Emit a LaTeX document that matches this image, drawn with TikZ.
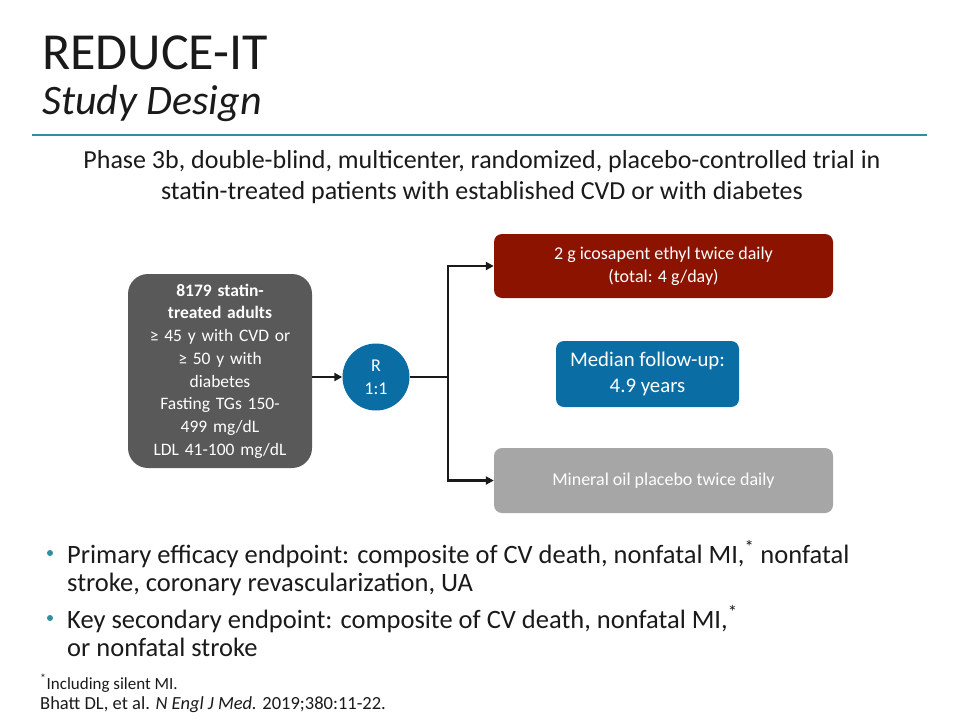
\documentclass[tikz,border=0pt]{standalone}
\usepackage{fontspec}
\setmainfont{Carlito}
\usetikzlibrary{arrows.meta,positioning}
\definecolor{teal}{HTML}{2E8F9E}
\definecolor{cohortgray}{HTML}{595959}
\definecolor{randblue}{HTML}{0A6EA5}
\definecolor{epared}{HTML}{8B1300}
\definecolor{placebogray}{HTML}{A6A6A6}
\definecolor{inkblack}{HTML}{1A1A1A}

\begin{document}
\begin{tikzpicture}[x=1pt,y=-1pt,
  armbox/.style={rounded corners=8pt,text=white,align=center,inner sep=0pt},
  flowline/.style={inkblack,line width=2.5pt},
  flowarrow/.style={flowline,-{Triangle[length=8pt,width=8pt]}},
  bulletline/.style={anchor=base west,inner sep=0pt,font=\fontsize{26.5}{26.5}\selectfont,text=inkblack}]
  \useasboundingbox[fill=white] (0,0) rectangle (960,720);

  % heading
  \node[anchor=base west,inner sep=0pt,font=\fontsize{52}{52}\selectfont,text=inkblack] (title) at (42,69) {REDUCE-IT};
  \node[anchor=base west,inner sep=0pt,font=\fontsize{42}{42}\selectfont\itshape,text=inkblack] (subtitle) at (42,114) {Study Design};
  \draw[teal,line width=2pt] (32,135) -- (927,135);
  \node[align=center,inner sep=0pt,font=\fontsize{26}{30.5}\selectfont,text=inkblack] (phase) at (482,177)
    {Phase 3b, double-blind, multicenter, randomized, placebo-controlled trial in\\
     statin-treated patients with established CVD or with diabetes};

  % flow
  \node[fill=cohortgray,rounded corners=20pt,minimum width=184pt,minimum height=194pt,
        text width=180pt,align=center,text=white,inner sep=0pt,font=\fontsize{17.5}{22.7}\selectfont] (cohort) at (220,371)
    {\textbf{8179 statin-}\\\textbf{treated adults}\\≥ 45 y with CVD or\\≥ 50 y with\\diabetes\\Fasting TGs 150-\\499 mg/dL\\LDL 41-100 mg/dL};
  \node[circle,fill=randblue,minimum size=67pt,inner sep=0pt,align=center,text=white,
        font=\fontsize{18}{23}\selectfont] (rand) at (376,377) {R\\1:1};
  \node[armbox,fill=epared,minimum width=339pt,minimum height=64pt,font=\fontsize{18}{23}\selectfont] (epa) at (663.5,266)
    {2 g icosapent ethyl twice daily\\(total: 4 g/day)};
  \node[armbox,fill=randblue,minimum width=183pt,minimum height=66pt,font=\fontsize{20.8}{26}\selectfont] (followup) at (647.5,374)
    {Median follow-up:\\4.9 years};
  \node[armbox,fill=placebogray,minimum width=339pt,minimum height=65pt,font=\fontsize{18}{20}\selectfont] (placebo) at (663.5,480.5)
    {Mineral oil placebo twice daily};
  \coordinate (split) at (448,377);

  \draw[flowarrow] (rand.west -| cohort.east) -- (rand.west);
  \draw[flowline] (rand.east) -- (split);
  \draw[flowarrow] (split) |- (epa.west);
  \draw[flowarrow] (split) |- (placebo.west);

  % endpoints
  \fill[teal] (50,553) circle (3pt);
  \node[bulletline] (primary) at (67,563) {Primary efficacy endpoint: composite of CV death, nonfatal MI,\textsuperscript{*} nonfatal};
  \node[bulletline] (primary2) at (67,591) {stroke, coronary revascularization, UA};
  \fill[teal] (50,618) circle (3pt);
  \node[bulletline] (secondary) at (67,628) {Key secondary endpoint: composite of CV death, nonfatal MI,\textsuperscript{*}};
  \node[bulletline] (secondary2) at (67,656) {or nonfatal stroke};

  % footnote
  \node[anchor=base west,inner sep=0pt,font=\fontsize{17}{17}\selectfont,text=inkblack] (note) at (40,689) {\textsuperscript{*}Including silent MI.};
  \node[anchor=base west,inner sep=0pt,font=\fontsize{18.5}{18.5}\selectfont,text=inkblack] (ref) at (40,709) {Bhatt DL, et al. \textit{N Engl J Med.} 2019;380:11-22.};
\end{tikzpicture}
\end{document}
